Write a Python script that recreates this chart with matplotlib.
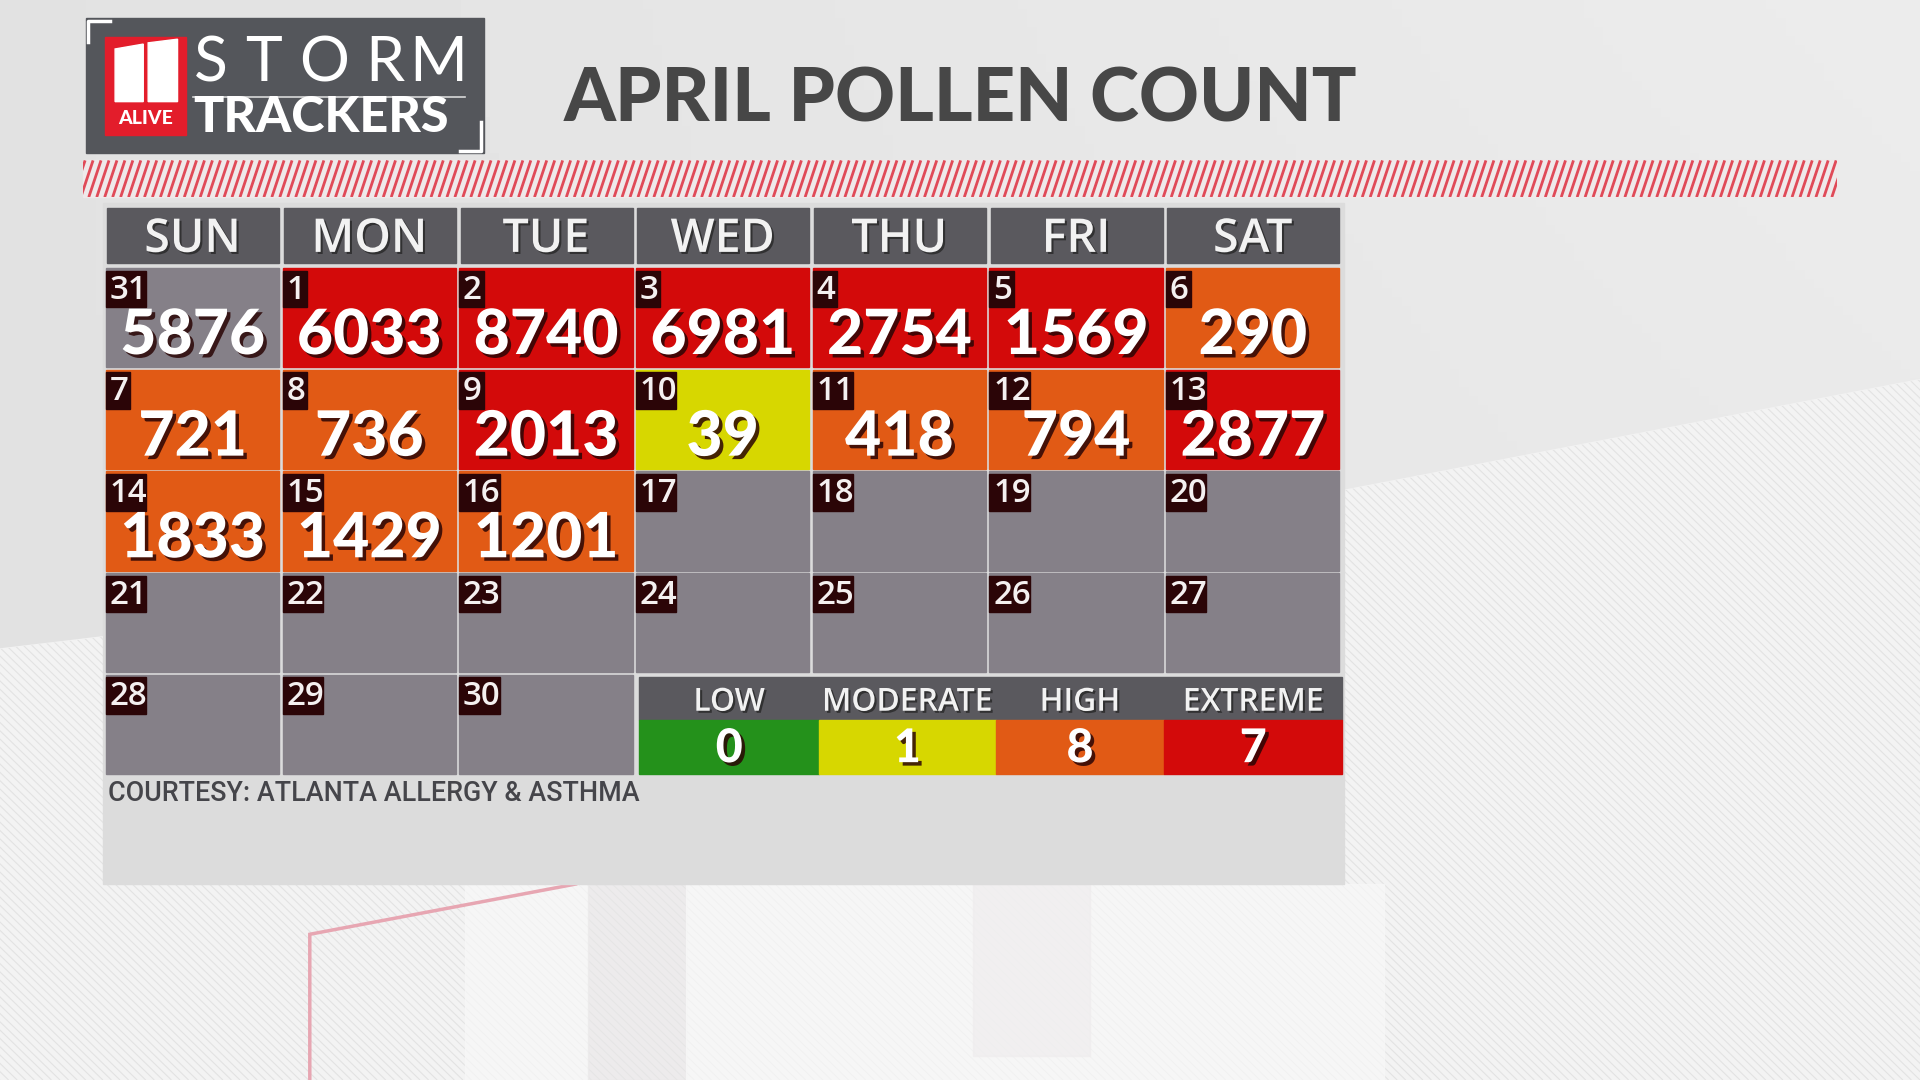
import numpy as np
import matplotlib
matplotlib.use('Agg')
import matplotlib.pyplot as plt
import matplotlib.patches as mp
import matplotlib.patheffects as pe
from matplotlib.collections import LineCollection

# calendar data (April, week starting Sun Mar 31)
weekdays = ['SUN', 'MON', 'TUE', 'WED', 'THU', 'FRI', 'SAT']
day_labels = [31, 1, 2, 3, 4, 5, 6,
              7, 8, 9, 10, 11, 12, 13,
              14, 15, 16, 17, 18, 19, 20,
              21, 22, 23, 24, 25, 26, 27,
              28, 29, 30]
counts = [5876, 6033, 8740, 6981, 2754, 1569, 290,
          721, 736, 2013, 39, 418, 794, 2877,
          1833, 1429, 1201]
levels = ['none', 'extreme', 'extreme', 'extreme', 'extreme', 'extreme', 'high',
          'high', 'high', 'extreme', 'moderate', 'high', 'high', 'extreme',
          'high', 'high', 'high']
legend_names = ['LOW', 'MODERATE', 'HIGH', 'EXTREME']
legend_keys = ['low', 'moderate', 'high', 'extreme']
legend_days = [0, 1, 8, 7]

level_colors = {'none': '#858088', 'low': '#24911b', 'moderate': '#d7d700',
                'high': '#e15a15', 'extreme': '#d30a0a'}

W, H = 1568, 882
fig = plt.figure(figsize=(19.2, 10.8), dpi=100)
ax = fig.add_axes([0, 0, 1, 1])
ax.set_xlim(0, W)
ax.set_ylim(H, 0)
ax.axis('off')

def pt(em):
    # em height in layout px -> points
    return em * 0.8816

shadow = [pe.withSimplePatchShadow(offset=(2.5, -2.5), shadow_rgbFace='#2a0505', alpha=0.85)]
soft_shadow = [pe.withSimplePatchShadow(offset=(1.5, -1.5), shadow_rgbFace='#202020', alpha=0.7)]

# background: soft gradient, lighter to the upper right
gx, gy = np.meshgrid(np.linspace(0, 1, 200), np.linspace(0, 1, 120))
grad = 0.885 + 0.04 * gx * (1 - 0.5 * gy)
ax.imshow(grad, cmap='gray', vmin=0, vmax=1, extent=(0, W, H, 0), aspect='auto', zorder=0)
low_poly = mp.Polygon([(0, 530), (1100, 400), (W, 310), (W, H), (0, H)], color='#f3f3f3', zorder=0.2)
ax.add_patch(low_poly)
xs = np.arange(-600, W + 600, 7)
segs = [[(x, 300), (x + 600, 882)] for x in xs]
lc = LineCollection(segs, colors='#d8d8d8', linewidths=0.8, alpha=0.6, zorder=0.5)
ax.add_collection(lc)
lc.set_clip_path(low_poly)
ax.add_patch(mp.Rectangle((380, 722), 100, 160, color='#f8f8f8', alpha=0.7, zorder=0.6))
ax.add_patch(mp.Rectangle((480, 722), 80, 160, color='#e9e7e8', alpha=0.6, zorder=0.6))
ax.add_patch(mp.Rectangle((560, 722), 570, 160, color='#f8f8f8', alpha=0.7, zorder=0.6))
ax.add_patch(mp.Rectangle((795, 722), 95, 140, color='#efedee', alpha=0.7, zorder=0.7))
ax.plot([253, 253, 470], [882, 763, 722], color='#e7a6b2', lw=2.5, zorder=0.8,
        solid_joinstyle='miter')

# logo
ax.add_patch(mp.Rectangle((70, 15), 325, 110, color='#54565b', zorder=2))
ax.plot([72, 72, 90], [34, 17, 17], color='white', lw=2.5, zorder=3)
ax.plot([376, 393, 393], [123, 123, 100], color='white', lw=2.5, zorder=3)
ax.add_patch(mp.Rectangle((86, 30), 66, 80, color='#e31d2b', zorder=3))
ax.add_patch(mp.Polygon([(94, 40), (117, 36), (117, 83), (94, 83)], color='white', zorder=4))
ax.add_patch(mp.Polygon([(121, 35), (145, 32), (145, 83), (121, 83)], color='white', zorder=4))
ax.text(119, 97, 'ALIVE', color='white', fontsize=14, fontweight='black',
        family=['Lato', 'DejaVu Sans'], ha='center', va='center', zorder=4)
storm_x = [158, 200, 244, 298, 334]
for letter, sx in zip('STORM', storm_x):
    ax.text(sx, 52, letter, color='white', fontsize=pt(51), fontweight='normal',
            family=['Lato', 'DejaVu Sans'], ha='left', va='center', zorder=4)
ax.plot([158, 380], [79, 79], color='#d8d8d8', lw=1.2, zorder=4)
ax.text(158, 96, 'TRACKERS', color='white', fontsize=pt(41), fontweight='black',
        family=['Lato', 'DejaVu Sans'], ha='left', va='center', zorder=4)

# title
ax.text(460, 82, 'APRIL POLLEN COUNT', color='#474747', fontsize=pt(60.5), fontweight='black',
        family=['Lato', 'DejaVu Sans'], ha='left', va='center', zorder=4)

# red hatched band
band = mp.Rectangle((68, 131), 1432, 30, color='#efe9ea', zorder=1)
ax.add_patch(band)
bx = np.arange(40, 1520, 6.5)
bsegs = [[(x, 161), (x + 10, 131)] for x in bx]
blc = LineCollection(bsegs, colors='#e04a58', linewidths=2.0, zorder=1.5)
ax.add_collection(blc)
blc.set_clip_path(band)

# panel
ax.add_patch(mp.Rectangle((84, 166), 1014, 556, color='#dcdcdc', zorder=1))

x0, pitch, cw = 86.5, 144.3, 141.5
y0, rpitch, rh = 219, 83, 81
hdr_y, hdr_h = 170, 45

for c, name in enumerate(weekdays):
    hx = x0 + c * pitch
    ax.add_patch(mp.Rectangle((hx + 1, hdr_y), cw - 1, hdr_h, color='#5a595e', zorder=2))
    ax.text(hx + cw / 2, hdr_y + hdr_h / 2 + 3, name, color='#f2f2f2', fontsize=pt(38),
            family=['Open Sans', 'DejaVu Sans'], fontweight='semibold',
            ha='center', va='center', zorder=3, path_effects=soft_shadow)

for i, day in enumerate(day_labels):
    r, c = divmod(i, 7)
    cx = x0 + c * pitch
    cy = y0 + r * rpitch
    lvl = levels[i] if i < len(levels) else 'none'
    ax.add_patch(mp.Rectangle((cx, cy), cw, rh, color=level_colors[lvl], zorder=2))
    lab = str(day)
    bw = 7 + 13 * len(lab)
    ax.add_patch(mp.Rectangle((cx, cy + 2), bw, 30, color='#2b0507', zorder=3))
    ax.text(cx + 3, cy + 18, lab, color='#f4f0f0', fontsize=pt(27),
            family=['Open Sans', 'DejaVu Sans'], fontweight='semibold',
            ha='left', va='center', zorder=4)
    if i < len(counts):
        ax.text(cx + cw / 2, cy + 55, str(counts[i]), color='white', fontsize=pt(51),
                family=['Lato', 'DejaVu Sans'], fontweight='black',
                ha='center', va='center', zorder=4, path_effects=shadow)

# legend
lx0, lx1 = 522, 1096
ly0, lhh, lch = 553, 35, 44
ax.add_patch(mp.Rectangle((lx0, ly0), lx1 - lx0, lhh, color='#5a595e', zorder=2))
edges = [522, 669, 813, 951, 1096]
for k, name in enumerate(legend_names):
    ex, ew = edges[k], edges[k + 1] - edges[k]
    ax.add_patch(mp.Rectangle((ex, ly0 + lhh), ew, lch, color=level_colors[legend_keys[k]], zorder=2))
    ax.text(ex + ew / 2, ly0 + lhh / 2 + 3, name, color='#f2f2f2', fontsize=pt(26),
            family=['Open Sans', 'DejaVu Sans'], fontweight='semibold',
            ha='center', va='center', zorder=3, path_effects=soft_shadow)
    ax.text(ex + ew / 2, ly0 + lhh + lch / 2 + 1, str(legend_days[k]), color='white', fontsize=pt(38),
            family=['Lato', 'DejaVu Sans'], fontweight='black',
            ha='center', va='center', zorder=3, path_effects=shadow)

ax.text(88, 648, 'COURTESY: ATLANTA ALLERGY & ASTHMA', color='#45454a', fontsize=pt(22),
        family=['Roboto', 'DejaVu Sans'], fontweight='medium',
        ha='left', va='center', zorder=3)

fig.savefig('out.png', dpi=100)
